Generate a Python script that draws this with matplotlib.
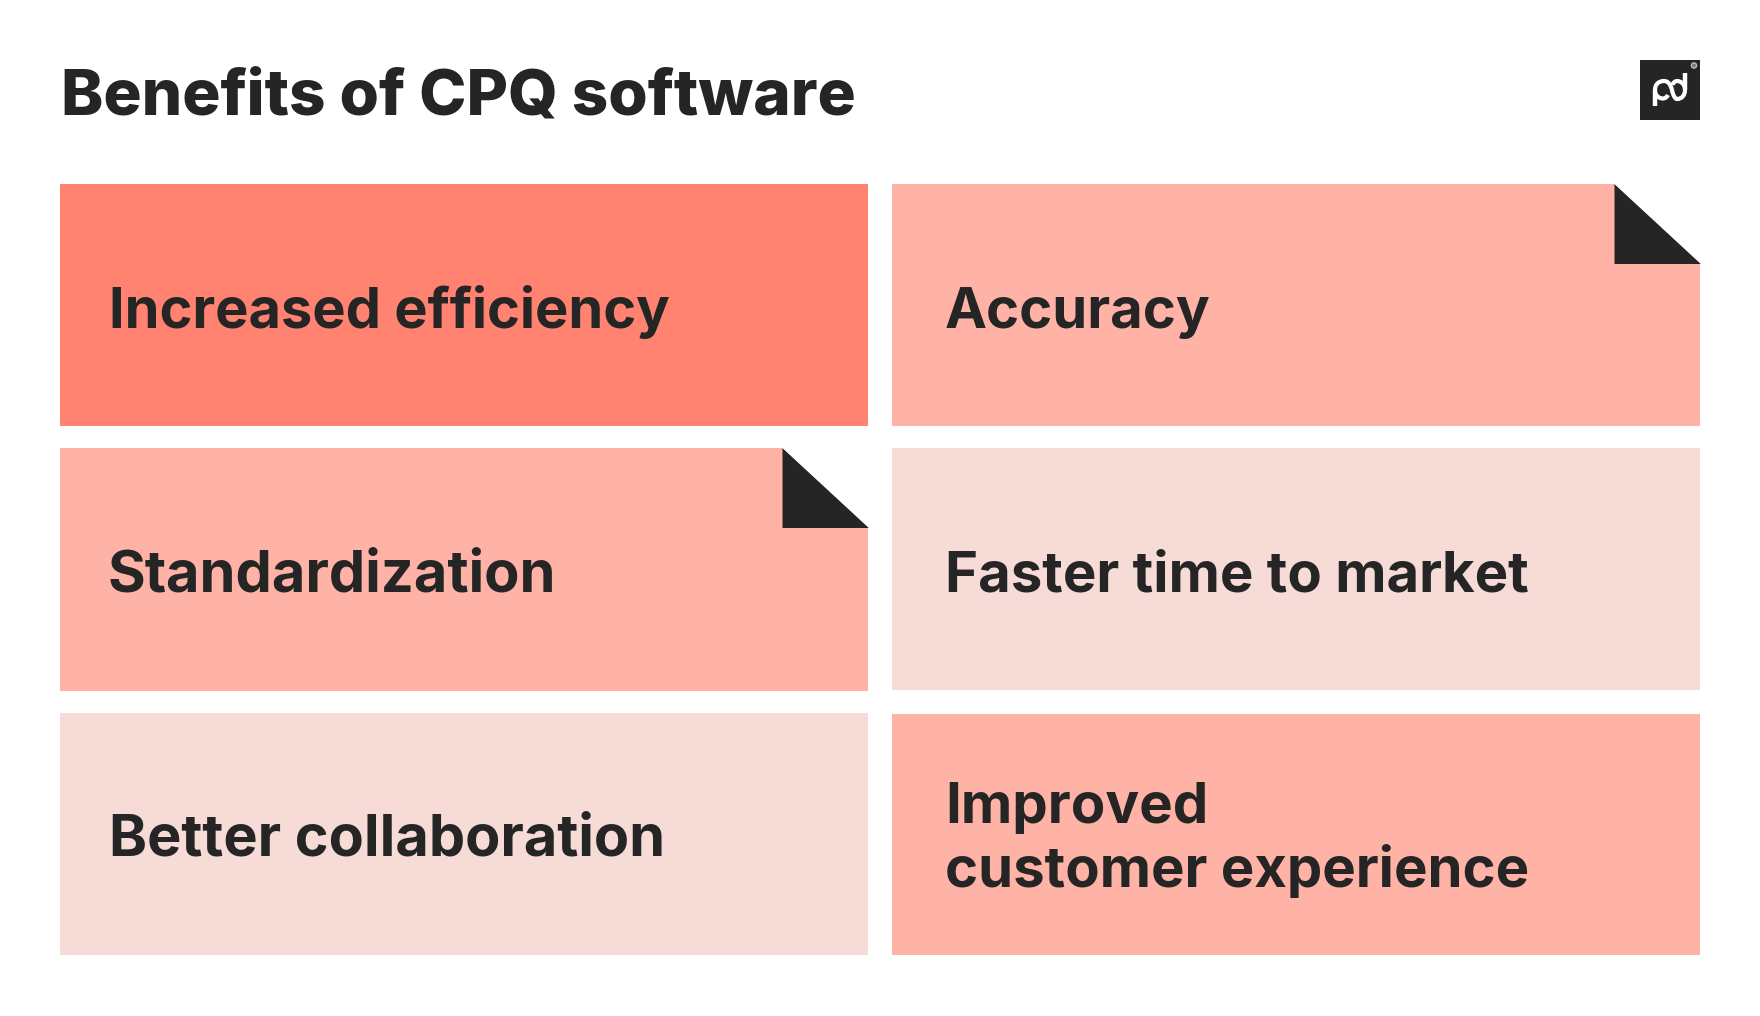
import matplotlib
matplotlib.use('Agg')
import matplotlib.pyplot as plt
from matplotlib.patches import Rectangle, Polygon, Circle, PathPatch
from matplotlib.path import Path

# Content
title = 'Benefits of CPQ software'
labels = [['Increased efficiency', 'Accuracy'],
          ['Standardization', 'Faster time to market'],
          ['Better collaboration', 'Improved\ncustomer experience']]
colors = [['#ff8370', '#ffb3a7'],
          ['#ffb3a7', '#f6dbd7'],
          ['#f6dbd7', '#ffb3a7']]
folded = [(0, 1), (1, 0)]

# per label font size, the reference font runs a bit different from Inter
sizes = [[40.25, 40.5],
         [41.6, 40.5],
         [41.5, 40.6]]

DARK = '#252525'
col_x = [(60, 868), (892, 1700)]
row_y = [[(184, 426), (184, 426)],
         [(448, 690.5), (448, 690)],
         [(713, 955), (713.5, 955)]]
text_x = [[109, 945], [107.5, 945], [109, 945]]

fig = plt.figure(figsize=(17.6, 10.16), dpi=100)
ax = fig.add_axes([0, 0, 1, 1])
ax.set_xlim(0, 1760)
ax.set_ylim(1016, 0)
ax.axis('off')

ax.text(61, 114, title, fontsize=45.9, fontweight=800, family='Inter',
        color=DARK, va='baseline', ha='left')

for r in range(3):
    for c in range(2):
        x0, x1 = col_x[c]
        y0, y1 = row_y[r][c]
        ax.add_patch(Rectangle((x0, y0), x1 - x0, y1 - y0, fc=colors[r][c], ec='none'))
        lines = labels[r][c].split('\n')
        mid = (y0 + y1) / 2
        if len(lines) == 1:
            dy = 22 if r > 0 and c == 0 else 23
            ax.text(text_x[r][c], mid + dy, lines[0], fontsize=sizes[r][c], fontweight='bold',
                    family='Inter', color=DARK, va='baseline')
        else:
            ax.text(text_x[r][c], mid - 11, lines[0], fontsize=sizes[r][c], fontweight='bold',
                    family='Inter', color=DARK, va='baseline')
            ax.text(text_x[r][c], mid + 53, lines[1], fontsize=40.5, fontweight='bold',
                    family='Inter', color=DARK, va='baseline')

# Folded corners
for r, c in folded:
    x1 = col_x[c][1]
    y0 = row_y[r][c][0]
    ax.add_patch(Polygon([(x1 - 85.5, y0), (x1 + 1, y0 + 80), (x1 - 85.5, y0 + 80)],
                         fc=DARK, ec='none'))
    ax.add_patch(Polygon([(x1 - 85.5, y0), (x1 + 1, y0 + 80), (x1 + 1, y0)],
                         fc='white', ec='none'))

# Logo, two stems and the looped stroke between them
ax.add_patch(Rectangle((1640, 60), 60, 60, fc=DARK, ec='none'))
ax.plot([1655, 1655], [106, 90], color='white', lw=3.2, solid_capstyle='butt')
ax.plot([1685, 1685], [73, 90], color='white', lw=3.2, solid_capstyle='butt')
C4 = Path.CURVE4
s_curve = Path([(1655, 90), (1655, 84), (1659, 81), (1664, 81),
                (1669, 81), (1671, 86), (1672, 90),
                (1673, 95), (1675, 99), (1677, 99),
                (1682, 99), (1685, 95), (1685, 90)],
               [Path.MOVETO] + [C4] * 12)
ax.add_patch(PathPatch(s_curve, fc='none', ec='white', lw=3.0))
lower = Path([(1655, 92), (1656, 96), (1659, 98.5), (1663, 98.5),
              (1665, 98.5), (1667, 97), (1668, 95)],
             [Path.MOVETO] + [C4] * 6)
ax.add_patch(PathPatch(lower, fc='none', ec='white', lw=3.0))
upper = Path([(1685, 88), (1684, 84), (1681, 81), (1677, 81),
              (1675, 81), (1673, 83), (1672.5, 85)],
             [Path.MOVETO] + [C4] * 6)
ax.add_patch(PathPatch(upper, fc='none', ec='white', lw=3.0))
ax.add_patch(Circle((1694, 65.5), 2.6, fc='#777777', ec='#bbbbbb', lw=1))

fig.savefig('out.png', dpi=100)
